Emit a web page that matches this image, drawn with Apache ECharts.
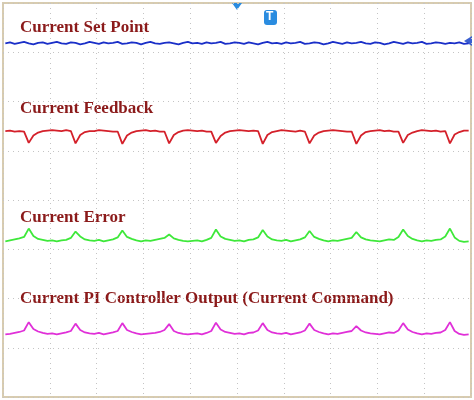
<!DOCTYPE html>
<html>
<head>
<meta charset="utf-8">
<script src="https://cdn.jsdelivr.net/npm/echarts@6/dist/echarts.min.js"></script>
<style>
  html, body { margin: 0; padding: 0; background: #fff; }
  #chart { width: 474px; height: 400px; }
</style>
</head>
<body>
<div id="chart"></div>
<script>
// scope traces, values in vertical divisions (0 = bottom, 8 = top), 100 samples over 10 divisions
const setPoint = [
  7.18,7.20,7.17,7.19,7.21,7.18,7.16,7.19,7.20,7.17, 7.19,7.21,7.18,7.17,7.20,7.19,7.16,7.18,7.21,7.19,
  7.17,7.20,7.18,7.19,7.21,7.17,7.18,7.20,7.19,7.16, 7.19,7.21,7.18,7.17,7.19,7.20,7.18,7.16,7.19,7.21,
  7.18,7.19,7.17,7.20,7.18,7.19,7.21,7.17,7.18,7.20, 7.19,7.17,7.20,7.18,7.16,7.19,7.21,7.18,7.19,7.17,
  7.20,7.18,7.19,7.21,7.17,7.18,7.20,7.19,7.16,7.18, 7.21,7.19,7.17,7.20,7.18,7.19,7.21,7.18,7.17,7.20,
  7.19,7.16,7.18,7.21,7.19,7.17,7.20,7.18,7.19,7.21, 7.17,7.18,7.20,7.19,7.17,7.19,7.18,7.20,7.17,7.18
];
const feedback = [
  5.40,5.41,5.39,5.40,5.39,5.16,5.31,5.37,5.40,5.41, 5.42,5.41,5.40,5.42,5.40,5.15,5.32,5.38,5.40,5.40,
  5.42,5.41,5.40,5.39,5.39,5.14,5.31,5.37,5.40,5.41, 5.42,5.40,5.41,5.39,5.39,5.15,5.32,5.38,5.41,5.42,
  5.41,5.40,5.41,5.39,5.39,5.16,5.30,5.37,5.40,5.41, 5.42,5.41,5.40,5.41,5.40,5.14,5.32,5.38,5.40,5.42,
  5.41,5.40,5.39,5.41,5.39,5.15,5.31,5.37,5.40,5.41, 5.42,5.41,5.40,5.39,5.39,5.14,5.31,5.38,5.40,5.41,
  5.42,5.40,5.41,5.39,5.39,5.16,5.32,5.37,5.40,5.42, 5.41,5.40,5.41,5.39,5.40,5.15,5.33,5.38,5.41,5.41
];
const error = [
  3.16,3.18,3.20,3.22,3.25,3.42,3.27,3.21,3.19,3.17, 3.18,3.16,3.18,3.19,3.23,3.36,3.26,3.20,3.18,3.17,
  3.19,3.16,3.18,3.20,3.24,3.38,3.25,3.21,3.18,3.16, 3.18,3.17,3.19,3.21,3.23,3.30,3.22,3.19,3.17,3.16,
  3.17,3.18,3.16,3.19,3.23,3.40,3.26,3.21,3.19,3.17, 3.18,3.16,3.19,3.20,3.24,3.39,3.26,3.20,3.18,3.17,
  3.19,3.16,3.18,3.20,3.24,3.37,3.25,3.21,3.18,3.16, 3.18,3.17,3.19,3.21,3.23,3.35,3.24,3.20,3.18,3.17,
  3.16,3.18,3.20,3.19,3.25,3.40,3.27,3.21,3.18,3.16, 3.18,3.17,3.19,3.20,3.26,3.42,3.24,3.17,3.15,3.16
];
const piOutput = [
  1.27,1.28,1.30,1.32,1.35,1.52,1.38,1.33,1.30,1.28, 1.29,1.27,1.29,1.31,1.34,1.49,1.36,1.31,1.29,1.28,
  1.30,1.27,1.29,1.31,1.34,1.50,1.36,1.32,1.29,1.27, 1.28,1.29,1.30,1.32,1.36,1.48,1.34,1.30,1.28,1.27,
  1.28,1.29,1.27,1.30,1.34,1.51,1.37,1.32,1.30,1.28, 1.29,1.27,1.30,1.31,1.35,1.50,1.36,1.31,1.29,1.28,
  1.30,1.27,1.29,1.31,1.35,1.49,1.36,1.32,1.29,1.27, 1.29,1.28,1.30,1.32,1.34,1.44,1.35,1.31,1.29,1.28,
  1.27,1.29,1.31,1.30,1.35,1.50,1.37,1.32,1.29,1.27, 1.29,1.28,1.30,1.31,1.36,1.52,1.34,1.28,1.26,1.27
];
const labels = [
  'Current Set Point',
  'Current Feedback',
  'Current Error',
  'Current PI Controller Output (Current Command)'
];
const labelTops = [19, 100, 209, 290];

const toPairs = arr => arr.map((v, i) => [i * 0.1 + 0.05, v]);

const chart = echarts.init(document.getElementById('chart'));

const trace = (data, color) => ({
  type: 'line',
  data: toPairs(data),
  symbol: 'none',
  lineStyle: { color: color, width: 1.8 },
  silent: true
});

chart.setOption({
  animation: false,
  backgroundColor: '#fff',
  grid: { left: 3, right: 3, top: 3, bottom: 3, borderColor: '#d8ccb0', borderWidth: 2, show: true },
  xAxis: {
    type: 'value', min: 0, max: 10, interval: 1,
    axisLabel: { show: false }, axisTick: { show: false }, axisLine: { show: false },
    splitLine: { lineStyle: { color: '#c4c4c4', type: [1, 4] } }
  },
  yAxis: {
    type: 'value', min: 0, max: 8, interval: 1,
    axisLabel: { show: false }, axisTick: { show: false }, axisLine: { show: false },
    splitLine: { lineStyle: { color: '#c4c4c4', type: [1, 4] } }
  },
  series: [
    trace(setPoint, '#1a2fc8'),
    trace(feedback, '#d4202a'),
    trace(error, '#3ee83a'),
    trace(piOutput, '#e030d8')
  ],
  graphic: labels.map((t, i) => ({
    type: 'text', left: 20, top: labelTops[i],
    style: { text: t, fill: '#8b1a1a', font: 'bold 17px "Liberation Serif", serif' }
  })).concat([
    { type: 'polygon', shape: { points: [[232, 3], [242, 3], [237, 10]] }, style: { fill: '#2a8ce0' } },
    { type: 'rect', shape: { x: 264, y: 10, width: 13, height: 15, r: 3 }, style: { fill: '#2a8ce0' } },
    { type: 'text', left: 266, top: 11, style: { text: 'T', fill: '#fff', font: 'bold 12px sans-serif' } },
    { type: 'polygon', shape: { points: [[472, 36], [472, 46], [464, 41]] }, style: { fill: '#3a5fd0' } }
  ])
});
</script>
</body>
</html>
